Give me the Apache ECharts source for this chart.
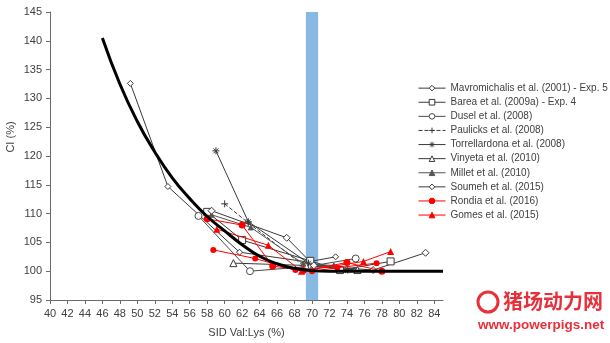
<!DOCTYPE html>
<html>
<head>
<meta charset="utf-8">
<script src="https://cdn.jsdelivr.net/npm/echarts@6/dist/echarts.min.js"></script>
<style>html,body{margin:0;padding:0;background:#fff}#c{width:610px;height:343px}</style>
</head>
<body>
<div id="c"></div>
<script>
// ---- data ----
const xTicks = [40,42,44,46,48,50,52,54,56,58,60,62,64,66,68,70,72,74,76,78,80,82,84];
const yTicks = [95,100,105,110,115,120,125,130,135,140,145];

const curveX = [46,48,50,52,54,56,58,60,62,64,66,68,70,72,85];
const curveY = [140.5,132.5,126,120.7,116.2,112.6,109.5,107,104.6,102.6,101.3,100.5,100.1,100,100];

const mavroX = [49.2,53.5,61.7,69.5,72.7];
const mavroY = [132.6,114.7,103.3,101.6,102.5];

const bareaX = [58.0,62.0,69.8,73.2,79.0];
const bareaY = [110.3,105.4,101.8,100.2,101.7];

const duselX = [57.0,62.9,69.5,75.0];
const duselY = [109.6,100.0,100.8,102.2];

const paulicksX = [60.0,62.7,69.0];
const paulicksY = [111.7,108.4,101.0];

const torrelX = [59.0,62.7,69.6,74.1];
const torrelY = [120.9,108.6,101.4,100.2];

const vinyetaX = [61.0,69.3,75.2];
const vinyetaY = [101.4,101.0,100.2];

const milletX = [58.5,63.0,69.0,72.5];
const milletY = [109.8,107.6,101.3,101.0];

const soumehX = [58.5,67.1,70.2,77.0,83.0];
const soumehY = [110.5,105.8,101.0,100.2,103.2];

const rondiaAX = [58.0,62.0,65.5,69.0,74.0,78.0];
const rondiaAY = [109.1,108.0,100.9,100.1,101.5,100.0];
const rondiaBX = [58.7,63.5,68.1,70.0,72.9,77.4];
const rondiaBY = [103.7,102.2,100.2,100.0,100.6,101.4];

const gomesX = [59.1,65.0,68.8,75.9,79.0];
const gomesY = [107.3,104.5,100.0,101.7,103.4];

const bandX = [69.3,70.7];

const names = [
  'Mavromichalis et al. (2001) - Exp. 5',
  'Barea et al. (2009a) - Exp. 4',
  'Dusel et al. (2008)',
  'Paulicks et al. (2008)',
  'Torrellardona et al. (2008)',
  'Vinyeta et al. (2010)',
  'Millet et al. (2010)',
  'Soumeh et al. (2015)',
  'Rondia et al. (2016)',
  'Gomes et al. (2015)'
];

// ---- build ----
const zip = (xs, ys) => xs.map((x, i) => [x, ys[i]]);
const DARK = '#3a3a3a';
const RED = '#ff0000';
const PLUS = 'path://M5,0L5,10M0,5L10,5';
const STAR = 'path://M5,0L5,10M0,5L10,5M1.5,1.5L8.5,8.5M8.5,1.5L1.5,8.5';

function blackSeries(name, xs, ys, symbol, size, opts) {
  opts = opts || {};
  return {
    name: name, type: 'line', data: zip(xs, ys),
    symbol: symbol, symbolSize: size, showAllSymbol: true,
    lineStyle: { color: opts.lineColor || DARK, width: 1, type: opts.dash ? 'dashed' : 'solid' },
    itemStyle: { color: opts.fill || '#ffffff', borderColor: opts.lineColor || DARK, borderWidth: 1 },
    z: 3, animation: false, emphasis: { disabled: true }
  };
}
function redSeries(name, xs, ys, symbol, size) {
  return {
    name: name, type: 'line', data: zip(xs, ys),
    symbol: symbol, symbolSize: size,
    lineStyle: { color: RED, width: 1 },
    itemStyle: { color: RED, borderColor: RED, borderWidth: 0 },
    z: 4, animation: false, emphasis: { disabled: true }
  };
}

const series = [
  blackSeries(names[0], mavroX, mavroY, 'diamond', 6),
  blackSeries(names[1], bareaX, bareaY, 'rect', 7),
  blackSeries(names[2], duselX, duselY, 'circle', 7, { lineColor: '#4a4a4a' }),
  blackSeries(names[3], paulicksX, paulicksY, PLUS, 7, { dash: true, fill: DARK }),
  blackSeries(names[4], torrelX, torrelY, STAR, 7, { fill: DARK }),
  blackSeries(names[5], vinyetaX, vinyetaY, 'triangle', 7),
  blackSeries(names[6], milletX, milletY, 'triangle', 5, { lineColor: '#555555', fill: '#555555' }),
  blackSeries(names[7], soumehX, soumehY, 'diamond', 7),
  redSeries(names[8], rondiaAX, rondiaAY, 'circle', 7),
  redSeries(names[8], rondiaBX, rondiaBY, 'circle', 6),
  redSeries(names[9], gomesX, gomesY, 'triangle', 7),
  {
    name: 'curve', type: 'line', data: zip(curveX, curveY), smooth: true,
    symbol: 'none', lineStyle: { color: '#000', width: 3 }, z: 5,
    animation: false, emphasis: { disabled: true }
  },
  {
    name: 'band', type: 'line', data: [], z: 6, animation: false,
    markArea: {
      silent: true,
      itemStyle: { color: '#6aa6dd', opacity: 0.8 },
      data: [[{ xAxis: bandX[0] }, { xAxis: bandX[1] }]]
    }
  }
];

const FONT = 'Liberation Sans';
const chart = echarts.init(document.getElementById('c'), null, { renderer: 'canvas' });
chart.setOption({
  backgroundColor: '#ffffff',
  animation: false,
  grid: { left: 50, right: 167, top: 12, bottom: 41, containLabel: false },
  xAxis: {
    type: 'value', min: 40, max: 85, interval: 2,
    name: 'SID Val:Lys (%)', nameLocation: 'middle', nameGap: 27,
    nameTextStyle: { fontFamily: FONT, fontSize: 11, color: '#404040' },
    axisLine: { lineStyle: { color: '#6a6a6a' } },
    axisTick: { lineStyle: { color: '#6a6a6a' }, length: 4 },
    axisLabel: { fontFamily: FONT, fontSize: 11, color: '#404040', margin: 8, showMaxLabel: false },
    splitLine: { show: false }
  },
  yAxis: {
    type: 'value', min: 95, max: 145, interval: 5,
    axisLine: { show: true, lineStyle: { color: '#6a6a6a' } },
    axisTick: { show: true, lineStyle: { color: '#6a6a6a' }, length: 4 },
    axisLabel: { fontFamily: FONT, fontSize: 11, color: '#404040', margin: 8 },
    splitLine: { show: false }
  },
  legend: {
    orient: 'vertical', left: 413, top: 77,
    itemWidth: 27, itemHeight: 7, itemGap: 1.8,
    data: names,
    lineStyle: { width: 1 },
    itemStyle: { borderWidth: 1 },
    textStyle: { fontFamily: FONT, fontSize: 10, color: '#404040', lineHeight: 12.3 },
    selectedMode: false
  },
  graphic: [
    { type: 'text', x: 5, y: 137, rotation: Math.PI / 2,
      style: { text: 'CI (%)', fontFamily: FONT, fontSize: 11, fill: '#404040', align: 'center', verticalAlign: 'top' } },
    { type: 'circle', shape: { cx: 488, cy: 302, r: 10 },
      style: { fill: '#fff', stroke: '#e8303a', lineWidth: 3 } },
    { type: 'text', x: 503, y: 291,
      style: { text: '猪场动力网', fontFamily: 'Noto Sans CJK SC', fontWeight: 'bold', fontSize: 20, fill: '#e8303a' } },
    { type: 'text', x: 478, y: 318,
      style: { text: 'www.powerpigs.net', fontFamily: FONT, fontWeight: 'bold', fontSize: 13.5, fill: '#e8303a' } }
  ],
  series: series
});
</script>
</body>
</html>
